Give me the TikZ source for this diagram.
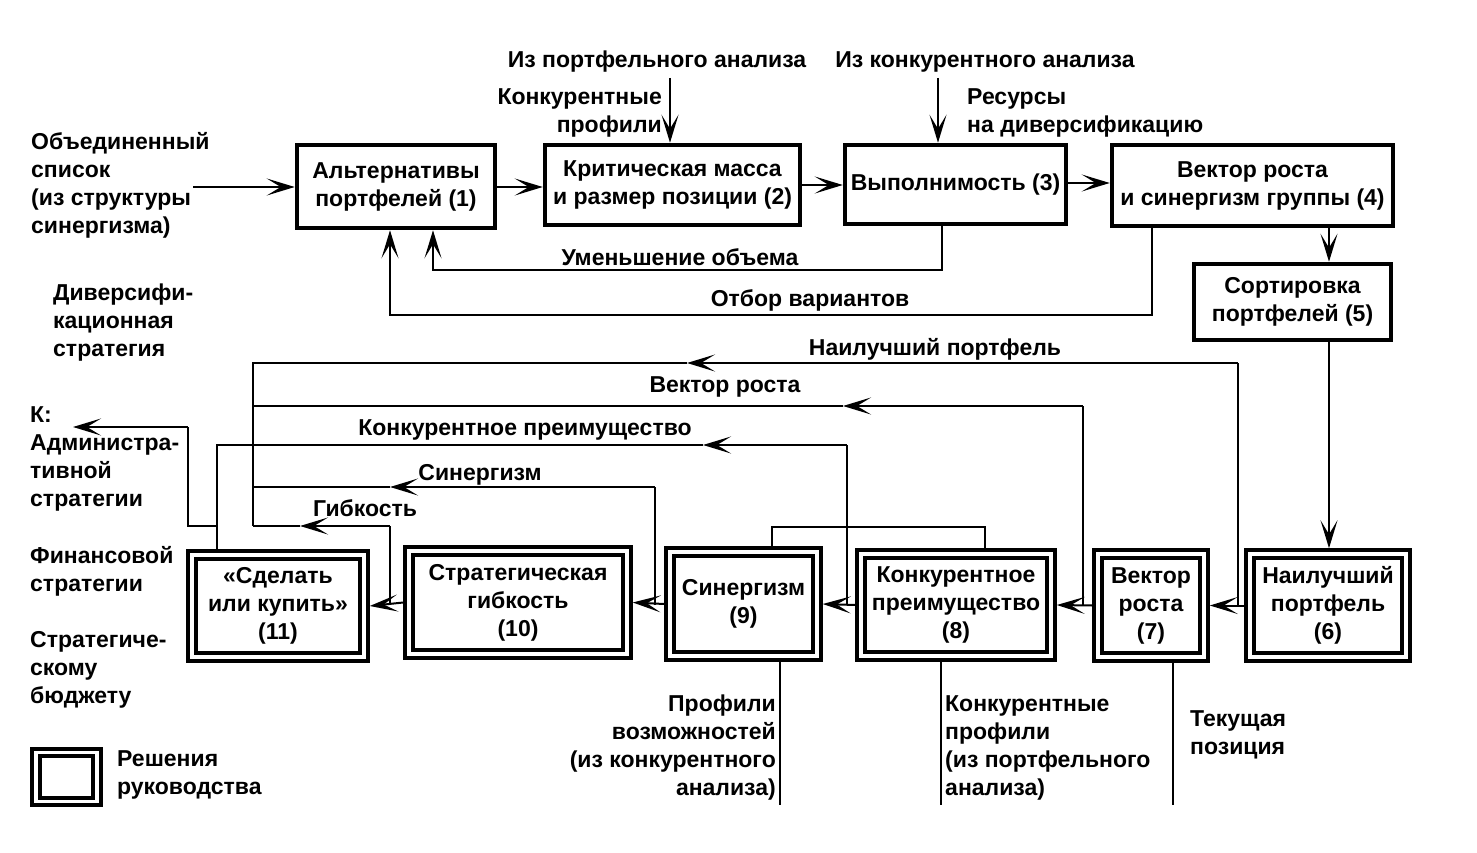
\documentclass[tikz,border=0pt]{standalone}
\usepackage{fontspec}
\setmainfont{Liberation Sans}
\usetikzlibrary{arrows.meta,calc}
\newcommand{\fsz}{\fontsize{23}{28}\selectfont\bfseries}
\tikzset{
  every node/.style={font=\fsz, inner sep=0pt},
  txt/.style={align=left},
  box/.style={draw, line width=4.5pt, align=center},
  dbox/.style={draw, line width=4pt, double, double distance=3.5pt, align=center, outer sep=5.75pt},
  conn/.style={line width=2pt},
  arr/.style={line width=2pt, -{Stealth[length=28pt,width=17pt,inset=14pt]}},
}
\begin{document}
\begin{tikzpicture}[x=1pt,y=-1pt]
\useasboundingbox[fill=white] (0,0) rectangle (1477,853);

% top row
\node[box, minimum width=198, minimum height=83] (b1) at (396,186.5) {Альтернативы\\портфелей (1)};
\node[box, minimum width=255, minimum height=80] (b2) at (672.5,185) {Критическая масса\\и размер позиции (2)};
\node[box, minimum width=221, minimum height=79] (b3) at (955.5,184.5) {Выполнимость (3)};
\node[box, minimum width=281, minimum height=81] (b4) at (1252.5,185.5) {Вектор роста\\и синергизм группы (4)};
\node[box, minimum width=197, minimum height=76] (b5) at (1292.5,302) {Сортировка\\портфелей (5)};

% bottom row
\node[dbox, minimum width=172, minimum height=102] (b11) at (278,606) {«Сделать\\или купить»\\(11)};
\node[dbox, minimum width=218, minimum height=103] (b10) at (518,602.5) {Стратегическая\\гибкость\\(10)};
\node[dbox, minimum width=147, minimum height=104] (b9) at (743.5,604) {Синергизм\\(9)};
\node[dbox, minimum width=190, minimum height=102] (b8) at (956,605) {Конкурентное\\преимущество\\(8)};
\node[dbox, minimum width=106, minimum height=103] (b7) at (1151,605.5) {Вектор\\роста\\(7)};
\node[dbox, minimum width=156, minimum height=103] (b6) at (1328,605.5) {Наилучший\\портфель\\(6)};

% top texts
\node (tA) at (657,62) {Из портфельного анализа};
\node[align=right, anchor=east] (tB) at (662,113) {Конкурентные\\профили};
\node (tC) at (985,62) {Из конкурентного анализа};
\node[txt, anchor=west] (tD) at (967,113) {Ресурсы\\на диверсификацию};
\node[txt, anchor=west] (tE) at (31,185) {Объединенный\\список\\(из структуры\\синергизма)};
\node[txt, anchor=west] (tF) at (53,323) {Диверсифи-\\кационная\\стратегия};
\node[txt, anchor=west] (tG) at (30,459) {К:\\Администра-\\тивной\\стратегии};
\node[txt, anchor=west] (tH) at (30,571) {Финансовой\\стратегии};
\node[txt, anchor=west] (tI) at (30,670) {Стратегиче-\\скому\\бюджету};
\node[align=right, anchor=east] (tJ) at (776,748) {Профили\\возможностей\\(из конкурентного\\анализа)};
\node[txt, anchor=west] (tK) at (945,748) {Конкурентные\\профили\\(из портфельного\\анализа)};
\node[txt, anchor=west] (tL) at (1190,735) {Текущая\\позиция};
\node[txt, anchor=west] (tM) at (117,775) {Решения\\руководства};
\node[draw, line width=4pt, double, double distance=3.5pt, minimum width=61, minimum height=49] (leg) at (66.5,777) {};

% line labels
\node (l1) at (680,257) {Уменьшение объема};
\node (l2) at (810,300) {Отбор вариантов};
\node (l3) at (935,349) {Наилучший портфель};
\node (l4) at (725,387) {Вектор роста};
\node (l5) at (525,430) {Конкурентное преимущество};
\node (l6) at (480,475) {Синергизм};
\node (l7) at (365,508) {Гибкость};

% coordinates
\coordinate (inA) at (670,78);
\coordinate (inC) at (938,78);
\coordinate (inE) at (193,187);
\coordinate (fb1) at (433,270);
\coordinate (fb2) at (390,315);
\coordinate (K) at (73,427);

% top connectors
\draw[arr] (inA) -- (inA |- b2.north);
\draw[arr] (inC) -- (inC |- b3.north);
\draw[arr] (inE) -- (inE -| b1.west);
\draw[arr] (b1.east |- 0,187) -- (b2.west |- 0,187);
\draw[arr] (b2.east |- 0,185) -- (b3.west |- 0,185);
\draw[arr] (b3.east |- 0,183) -- (b4.west |- 0,183);
\draw[arr] (b3.south -| 942,0) |- (fb1) -- (fb1 |- b1.south);
\draw[arr] (b4.south -| 1152,0) |- (fb2) -- (fb2 |- b1.south);
\draw[arr] (b4.south -| 1329,0) -- (b5.north -| 1329,0);
\draw[arr] (b5.south -| 1329,0) -- (b6.north -| 1329,0);

% bottom row arrows
\draw[arr] (b6.west) -- (b7.east);
\draw[arr] (b7.west) -- (b8.east);
\draw[arr] (b8.west) -- (b9.east);
\draw[arr] (b9.west) -- (b10.east);
\draw[arr] (b10.west) -- (b11.east);

% feedback lines to the bus
\draw[conn] (1238,605) -- (1238,363);
\draw[arr] (1238,363) -- (687,363);
\draw[conn] (687,363) -- (253,363) -- (253,526);
\draw[conn] (1083,605) -- (1083,406);
\draw[arr] (1083,406) -- (843,406);
\draw[conn] (843,406) -- (253,406);
\draw[conn] (847,605) -- (847,445);
\draw[arr] (847,445) -- (703,445);
\draw[conn] (703,445) -- (217,445) -- (b11.north -| 217,0);
\draw[conn] (655,605) -- (655,487);
\draw[arr] (655,487) -- (390,487);
\draw[conn] (390,487) -- (253,487);
\draw[conn] (390,605) -- (390,526);
\draw[arr] (390,526) -- (300,526);
\draw[conn] (300,526) -- (253,526);
\draw[conn] (217,526) -- (188,526) -- (188,427);
\draw[arr] (188,427) -- (K);

% 9 - 8 link
\draw[conn] (b9.north -| 772,0) -- (772,527) -- (985,527) -- (b8.north -| 985,0);

% bottom outputs
\draw[conn] (b9.south -| 780,0) -- (780,805);
\draw[conn] (b8.south -| 941,0) -- (941,805);
\draw[conn] (b7.south -| 1173,0) -- (1173,805);
\end{tikzpicture}
\end{document}
